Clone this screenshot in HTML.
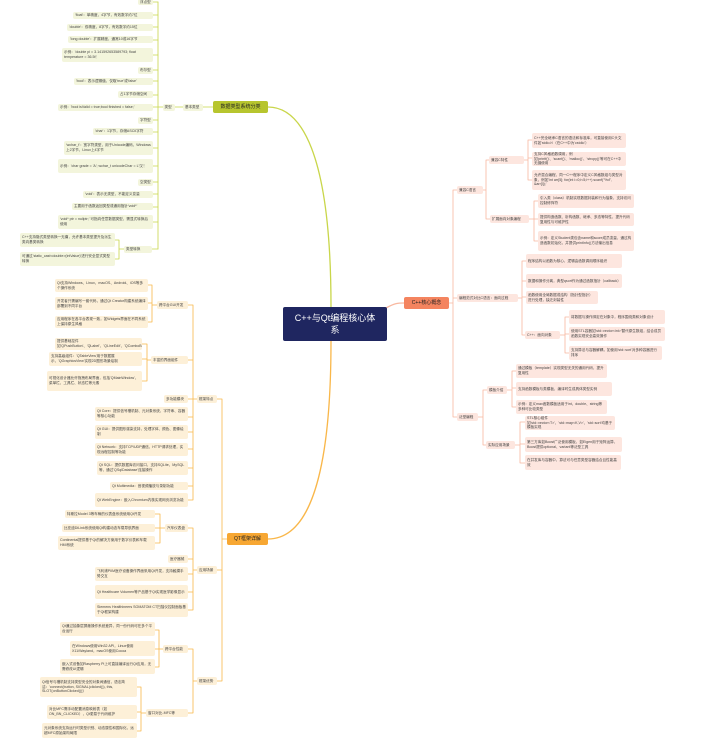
<!DOCTYPE html>
<html><head><meta charset="utf-8"><style>
body{margin:0;width:702px;height:749px;background:#fff;position:relative;overflow:hidden;font-family:"Liberation Sans","Noto Sans CJK SC",sans-serif}
.n{position:absolute;font-size:3.6px;line-height:4.6px;color:#444;border-radius:2px;padding:1px 2px;box-sizing:border-box;overflow:hidden;display:flex;align-items:center}
.g{background:#f3f5dc}.o{background:#fdf0d8}.r{background:#fde6df}
svg{position:absolute;left:0;top:0}
</style></head><body>
<svg width="702" height="749" fill="none" stroke-linecap="round">
<g stroke="#c9d64a" stroke-width="0.8">
<path d="M331,307 C331,150 300,107 268,107" stroke-width="1.3"/>
<path d="M158,2 V249 M163,107 H158 M174,107 H183 M203,107 H213"/>
<path d="M153,2H158M153,15H158M153,27H158M153,40H158M153,55H158M153,70H158M153,81H158M153,95H158M153,107H158M153,120H158M153,132H158M153,148H158M153,166H158M153,182H158M153,194H158M153,207H158M153,222H158M152,249H158"/>
<path d="M124,249H119M119,240V259M115,240H119M115,259H119"/>
</g>
<g stroke="#f9b74a" stroke-width="0.8">
<path d="M331,341 C331,500 300,539 268,539" stroke-width="1.3"/>
<path d="M227,539H222M222,399V681M222,399H217M222,570H217M222,681H217"/>
<path d="M193,305V500M197,399H193M188,305H193M188,360H193M188,399H193M188,417H193M188,432H193M188,449H193M188,468H193M188,486H193M188,500H193"/>
<path d="M157,305H152M152,285V322M148,285H152M148,303H152M148,322H152"/>
<path d="M151,360H147M147,344V381M142,344H147M142,359H147M142,381H147"/>
<path d="M193,528V610M197,570H193M188,528H193M188,559H193M188,574H193M188,592H193M188,610H193"/>
<path d="M165,528H160M160,514V543M155,514H160M155,528H160M155,543H160"/>
<path d="M193,649V713M197,681H193M188,649H193M188,713H193"/>
<path d="M163,649H159M159,630V667M155,630H159M155,649H159M155,667H159"/>
<path d="M146,713H141M141,687V731M137,687H141M137,712H141M137,731H141"/>
</g>
<g stroke="#f8b8a0" stroke-width="0.8">
<path d="M386,308 C395,303 398,303 404,303" stroke-width="1.3"/>
<path d="M449,303H453M453,190V417M453,190H457M453,298H457M453,417H457"/>
<path d="M483,190H486M486,160V219M486,160H489M486,219H490"/>
<path d="M524,160H528M528,140V180M528,140H532M528,158H532M528,180H532"/>
<path d="M529,219H534M534,201V241M534,201H538M534,219H538M534,241H538"/>
<path d="M518,298H522M522,261V335M522,261H526M522,281H526M522,297H526M522,335H525"/>
<path d="M560,335H565M565,317V353M565,317H569M565,334H569M565,353H569"/>
<path d="M478,417H483M483,390V445M483,390H487M483,445H486"/>
<path d="M507,390H512M512,371V407M512,371H516M512,388H516M512,407H516"/>
<path d="M515,445H520M520,422V463M520,422H525M520,444H525M520,463H525"/>
</g>
</svg>

<div class="n" style="left:283px;top:307px;width:104px;height:34px;background:#1f2660;color:#fff;font-size:9px;line-height:12px;justify-content:center;text-align:center;padding:2px 8px">C++与Qt编程核心体系</div>
<div class="n" style="left:404px;top:297px;width:45px;height:12px;background:#f4845f;color:#222;font-size:5px;justify-content:center">C++核心概念</div>
<div class="n" style="left:213px;top:101px;width:55px;height:12px;background:#b7c52e;color:#222;font-size:5px;justify-content:center">数据类型系统分类</div>
<div class="n" style="left:227px;top:533px;width:41px;height:12px;background:#f7a733;color:#222;font-size:5px;justify-content:center">QT框架详解</div>

<!-- green -->
<div class="n g" style="left:163px;top:104px;width:12px;height:7px;white-space:nowrap;padding:1px 1.5px">类型</div>
<div class="n g" style="left:183px;top:104px;width:20px;height:7px">基本类型</div>
<div class="n g" style="left:138px;top:-1px;width:15px;height:6px">浮点型</div>
<div class="n g" style="left:73px;top:12px;width:80px;height:7px">'float'：单精度，4字节，有效数字约7位</div>
<div class="n g" style="left:67px;top:24px;width:86px;height:7px">'double'：双精度，8字节，有效数字约15位</div>
<div class="n g" style="left:68px;top:36px;width:85px;height:7px">'long double'：扩展精度，通常10或16字节</div>
<div class="n g" style="left:62px;top:48px;width:91px;height:14px">示例：'double pi = 3.141592653589793; float temperature = 36.5f;'</div>
<div class="n g" style="left:138px;top:67px;width:15px;height:7px">布尔型</div>
<div class="n g" style="left:74px;top:78px;width:79px;height:7px">'bool'：表示逻辑值，仅取'true'或'false'</div>
<div class="n g" style="left:118px;top:91px;width:35px;height:7px">占1字节存储空间</div>
<div class="n g" style="left:58px;top:104px;width:95px;height:7px">示例：'bool isValid = true;bool finished = false;'</div>
<div class="n g" style="left:138px;top:117px;width:15px;height:7px">字符型</div>
<div class="n g" style="left:93px;top:128px;width:60px;height:7px">'char'：1字节，存储ASCII字符</div>
<div class="n g" style="left:64px;top:141px;width:89px;height:14px">'wchar_t'：宽字符类型，用于Unicode编码，Windows上2字节，Linux上4字节</div>
<div class="n g" style="left:58px;top:159px;width:95px;height:14px">示例：'char grade = 'A'; wchar_t unicodeChar = L'汉';'</div>
<div class="n g" style="left:138px;top:179px;width:15px;height:7px">空类型</div>
<div class="n g" style="left:83px;top:191px;width:70px;height:7px">'void'：表示无类型，不能定义变量</div>
<div class="n g" style="left:72px;top:203px;width:81px;height:7px">主要用于函数返回类型或通用指针'void*'</div>
<div class="n g" style="left:58px;top:215px;width:95px;height:14px">'void* ptr = nullptr;' 可指向任意数据类型，需显式转换后使用</div>
<div class="n g" style="left:124px;top:246px;width:28px;height:7px">类型转换</div>
<div class="n g" style="left:20px;top:233px;width:95px;height:14px">C++支持隐式类型转换一无痛，允许基本类型提升及派生类向基类转换</div>
<div class="n g" style="left:20px;top:252px;width:95px;height:14px">可通过'static_cast&lt;double&gt;(intValue)'进行安全显式类型转换</div>

<!-- orange -->
<div class="n o" style="left:197px;top:395px;width:20px;height:8px">框架特点</div>
<div class="n o" style="left:197px;top:566px;width:20px;height:8px">应用场景</div>
<div class="n o" style="left:197px;top:677px;width:20px;height:8px">框架优势</div>
<div class="n o" style="left:157px;top:301px;width:31px;height:8px">跨平台GUI开发</div>
<div class="n o" style="left:55px;top:279px;width:93px;height:13px">Qt支持Windows、Linux、macOS、Android、iOS等多个操作系统</div>
<div class="n o" style="left:55px;top:297px;width:93px;height:13px">开发者只需编写一套代码，通过Qt Creator构建系统编译部署到不同平台</div>
<div class="n o" style="left:55px;top:316px;width:93px;height:12px">应用程序在各平台表现一致，如Widgets界面在不同系统上保持原生风格</div>
<div class="n o" style="left:151px;top:356px;width:37px;height:8px">丰富的界面组件</div>
<div class="n o" style="left:55px;top:338px;width:87px;height:12px">提供基础控件如'QPushButton'、'QLabel'、'QLineEdit'、'QComboBox'</div>
<div class="n o" style="left:49px;top:352px;width:93px;height:14px">支持高级组件：'QTableView'用于数据展示，'QGraphicsView'实现2D图形场景绘制</div>
<div class="n o" style="left:47px;top:371px;width:95px;height:20px">可视化设计器允许拖拽布局界面，包括'QMainWindow'、菜单栏、工具栏、状态栏等元素</div>
<div class="n o" style="left:164px;top:395px;width:24px;height:8px">多功能模块</div>
<div class="n o" style="left:95px;top:407px;width:93px;height:14px">Qt Core：提供信号槽机制、元对象系统、字符串、容器等核心功能</div>
<div class="n o" style="left:95px;top:425px;width:93px;height:14px">Qt GUI：提供图形渲染支持，处理字体、颜色、图像绘制</div>
<div class="n o" style="left:95px;top:443px;width:93px;height:13px">Qt Network：支持TCP/UDP通信，HTTP请求处理，实现远程控制等功能</div>
<div class="n o" style="left:97px;top:461px;width:91px;height:14px">Qt SQL：提供数据库访问接口，支持SQLite、MySQL等，通过'QSqlDatabase'连接操作</div>
<div class="n o" style="left:110px;top:482px;width:78px;height:8px">Qt Multimedia：音视频播放与录制功能</div>
<div class="n o" style="left:95px;top:493px;width:93px;height:14px">Qt WebEngine：嵌入Chromium内核实现网页浏览功能</div>
<div class="n o" style="left:165px;top:524px;width:23px;height:8px">汽车仪表盘</div>
<div class="n o" style="left:65px;top:510px;width:90px;height:8px">特斯拉Model 3等车辆的仪表盘系统使用Qt开发</div>
<div class="n o" style="left:62px;top:524px;width:93px;height:8px">比亚迪DiLink系统使用Qt构建动态车载导航界面</div>
<div class="n o" style="left:58px;top:536px;width:97px;height:14px">Continental提供基于Qt的解决方案用于数字仪表和车载HMI系统</div>
<div class="n o" style="left:168px;top:555px;width:20px;height:8px">医疗器械</div>
<div class="n o" style="left:95px;top:567px;width:93px;height:14px">飞利浦PIIM医疗设备操作界面采用Qt开发，支持触摸手势交互</div>
<div class="n o" style="left:95px;top:585px;width:93px;height:14px">Qt Healthcare Volumen等产品基于Qt实现医学影像显示</div>
<div class="n o" style="left:95px;top:603px;width:93px;height:14px">Siemens Healthineers SOMATOM CT扫描仪控制面板基于Qt框架构建</div>
<div class="n o" style="left:163px;top:645px;width:25px;height:8px">跨平台性能</div>
<div class="n o" style="left:60px;top:622px;width:95px;height:14px">Qt通过抽象层屏蔽操作系统差异，同一份代码可在多个平台运行</div>
<div class="n o" style="left:70px;top:641px;width:85px;height:15px">在Windows使用Win32 API，Linux使用X11/Wayland，macOS使用Cocoa</div>
<div class="n o" style="left:60px;top:659px;width:95px;height:15px">嵌入式设备如Raspberry Pi上可直接编译运行Qt应用，无需修改UI逻辑</div>
<div class="n o" style="left:146px;top:709px;width:42px;height:8px">窗口对比-MFC等</div>
<div class="n o" style="left:40px;top:677px;width:97px;height:20px">Qt信号与槽机制支持类型安全的对象间通信，语法简洁：'connect(button, SIGNAL(clicked()), this, SLOT(onButtonClicked()))'</div>
<div class="n o" style="left:47px;top:705px;width:90px;height:14px">对比MFC需手动配置消息映射表（如ON_BN_CLICKED），Qt更易于代码维护</div>
<div class="n o" style="left:42px;top:723px;width:95px;height:15px">元对象系统支持运行时类型识别、动态属性和国际化，远超MFC原始架构局限</div>

<!-- right -->
<div class="n r" style="left:457px;top:186px;width:26px;height:8px">兼容C语言</div>
<div class="n r" style="left:489px;top:156px;width:35px;height:8px">兼容C特性</div>
<div class="n r" style="left:532px;top:133px;width:94px;height:15px">C++完全继承C语言的语法和标准库，可直接使用C头文件如'stdio.h'（在C++中为'cstdio'）</div>
<div class="n r" style="left:532px;top:152px;width:94px;height:14px">支持C风格函数调用，例如'printf()'、'scanf()'、'malloc()'、'strcpy()'等可在C++中无缝使用</div>
<div class="n r" style="left:532px;top:170px;width:94px;height:20px">允许混合编程，同一C++程序中定义C风格数组与类型对象，例如'int arr[5]; for(int i=0;i&lt;5;i++) scanf("%d", &amp;arr[i]);'</div>
<div class="n r" style="left:490px;top:215px;width:39px;height:8px">扩展面向对象编程</div>
<div class="n r" style="left:538px;top:194px;width:96px;height:14px">引入类（class）机制实现数据封装和行为抽象，支持访问控制修饰符</div>
<div class="n r" style="left:538px;top:213px;width:96px;height:13px">提供构造函数、析构函数、继承、多态等特性，提升代码复用性与可维护性</div>
<div class="n r" style="left:538px;top:231px;width:96px;height:20px">示例：定义Student类包含name和score成员变量，通过构造函数初始化，并提供printInfo()方法输出信息</div>
<div class="n r" style="left:457px;top:294px;width:61px;height:8px">编程范式对比C语言：面向过程</div>
<div class="n r" style="left:526px;top:254px;width:96px;height:14px">程序结构以函数为核心，逻辑由函数调用顺序组织</div>
<div class="n r" style="left:526px;top:274px;width:96px;height:14px">数据和操作分离，典型qsort作为通过函数指针（callback）</div>
<div class="n r" style="left:526px;top:291px;width:72px;height:13px">函数使用全局数据或结构（指针型指针）进行处理，缺乏封装性</div>
<div class="n r" style="left:525px;top:331px;width:35px;height:8px">C++：面向对象</div>
<div class="n r" style="left:569px;top:310px;width:96px;height:14px">将数据与操作绑定在对象中，程序围绕类和对象设计</div>
<div class="n r" style="left:569px;top:327px;width:96px;height:14px">使用STL容器如'std::vector&lt;int&gt;'替代原生数组，结合成员函数实现安全高效操作</div>
<div class="n r" style="left:569px;top:346px;width:93px;height:14px">支持算法与容器解耦，如使用'std::sort'对多种容器进行排序</div>
<div class="n r" style="left:457px;top:413px;width:21px;height:8px">泛型编程</div>
<div class="n r" style="left:487px;top:386px;width:20px;height:8px">模板介绍</div>
<div class="n r" style="left:516px;top:364px;width:91px;height:14px">通过模板（template）实现类型无关的通用代码，提升复用性</div>
<div class="n r" style="left:516px;top:382px;width:96px;height:14px">支持函数模板与类模板，编译时生成具体类型实例</div>
<div class="n r" style="left:516px;top:400px;width:91px;height:14px">示例：定义max函数模板适用于int、double、string等多种可比较类型</div>
<div class="n r" style="left:486px;top:441px;width:29px;height:8px">实际应用场景</div>
<div class="n r" style="left:525px;top:416px;width:90px;height:14px">STL核心组件如'std::vector&lt;T&gt;'、'std::map&lt;K,V&gt;'、'std::sort'均基于模板实现</div>
<div class="n r" style="left:525px;top:437px;width:97px;height:15px">第三方库如Boost广泛使用模板，如Eigen用于矩阵运算，Boost提供optional、variant等泛型工具</div>
<div class="n r" style="left:525px;top:455px;width:96px;height:15px">在并发库与容器中，算法可与任意类型容器结合且性能高效</div>
</body></html>
